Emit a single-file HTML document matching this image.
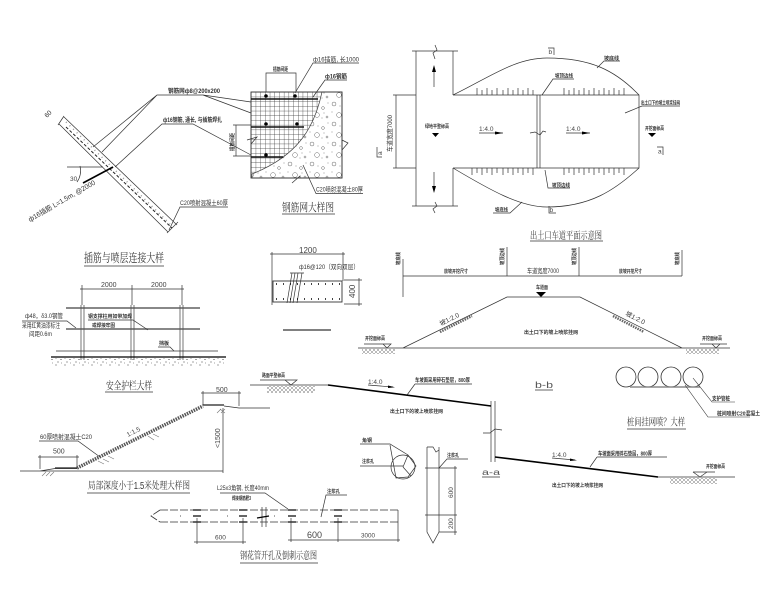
<!DOCTYPE html>
<html><head><meta charset="utf-8"><style>
html,body{margin:0;padding:0;background:#fff;width:760px;height:608px;overflow:hidden}
svg{display:block}
text{font-family:"Liberation Sans","Noto Sans CJK SC",sans-serif;fill:#222}
.s{font-size:6px;font-weight:700;fill:#333}
.r{font-size:6.5px;font-weight:400;fill:#333}
.n{font-size:8px;fill:#444}
.t{font-size:11px;fill:#333;font-family:"Liberation Sans","Noto Serif CJK SC",serif}
.l{fill:none;stroke:#333;stroke-width:.7}
.g{fill:none;stroke:#555;stroke-width:.8}
.h{fill:none;stroke:#777;stroke-width:.6}
</style></head><body>
<svg width="760" height="608" viewBox="0 0 760 608" xmlns="http://www.w3.org/2000/svg">
<defs>
<pattern id="grid" width="4.7" height="4.7" patternUnits="userSpaceOnUse" x="251" y="92"><path d="M0 0H4.7M0 0V4.7" stroke="#333" stroke-width=".7" fill="none"/></pattern>
<pattern id="conc" width="22" height="20" patternUnits="userSpaceOnUse"><g fill="none" stroke="#666" stroke-width=".5"><circle cx="4" cy="4" r="2"/><circle cx="15" cy="8" r="1.4"/><circle cx="9" cy="15" r="2.4"/><circle cx="19" cy="17" r="1"/></g><g fill="#777"><circle cx="10" cy="6" r=".5"/><circle cx="2" cy="12" r=".5"/><circle cx="16" cy="13" r=".5"/><circle cx="20" cy="3" r=".5"/><circle cx="14" cy="18" r=".5"/></g></pattern>
<pattern id="hat" width="4" height="4" patternUnits="userSpaceOnUse"><path d="M0 0L4 4M4 0L0 4" stroke="#777" stroke-width=".5"/></pattern>
<pattern id="spk" width="9" height="7" patternUnits="userSpaceOnUse"><path d="M1 1h2M6 2.500h2M3 5h2M7 6h1" stroke="#888" stroke-width=".7"/></pattern>
</defs>

<!-- slope strip -->
<g>
<path class="l" d="M59 124L168 232M64 117L177 225M58 125L64 116M167 233L178 222"/>
<path d="M66 127L172 228" stroke="#222" stroke-width="1" stroke-dasharray="3 2" fill="none"/>
<path d="M66 122L170 224" stroke="#999" stroke-width="1.5" stroke-dasharray="1 4" fill="none"/>
<path class="l" d="M67 167H103M80 166Q82 175 77 182"/>
<path class="l" d="M93 147L157 95H203L251 102M102 152L157 95M203 95L251 113"/>
<path class="l" d="M115 167L162 124H193L251 155"/>
<path d="M83 183L113 167" stroke="#000" stroke-width="1.6" fill="none"/>
<path class="l" d="M169 230L180 207H228"/>
<text class="s" x="168" y="93" textLength="52" lengthAdjust="spacingAndGlyphs">钢筋网ф8@200x200</text>
<text class="s" x="163" y="122" textLength="59" lengthAdjust="spacingAndGlyphs">ф16钢筋, 通长, 与插筋焊扎</text>
<text class="r" x="180" y="205" textLength="48" lengthAdjust="spacingAndGlyphs">C20喷射混凝土60厚</text>
<text class="n" x="70" y="181" style="font-size:6.500px">30</text>
<text class="r" x="47" y="118" transform="rotate(-45 47 118)">60</text>
<text class="r" x="30" y="222" transform="rotate(-30 30 222)" textLength="76" lengthAdjust="spacingAndGlyphs" style="font-size:7px">ф16插筋 L=1.5m, @2000</text>
<text class="t" x="84" y="262" textLength="80" lengthAdjust="spacingAndGlyphs" style="font-size:12px">插筋与喷层连接大样</text>
<path class="l" d="M84 266H164"/>
</g>

<!-- mesh detail -->
<rect x="251" y="92" width="91" height="86" fill="url(#grid)"/>
<path d="M322 92C315 125 300 155 252 174V178H342V92Z" fill="#fff"/>
<path d="M322 92C315 125 300 155 252 174V178H342V92Z" fill="url(#conc)" stroke="#444" stroke-width=".7"/>
<rect x="251" y="92" width="91" height="86" fill="none" stroke="#333" stroke-width=".9"/>
<path d="M251 99H318M251 127H304M251 157H283" stroke="#111" stroke-width="1.6" fill="none"/>
<g fill="#000"><circle cx="266" cy="96" r="1.8"/><circle cx="295" cy="96" r="1.8"/><circle cx="266" cy="124" r="1.8"/><circle cx="297" cy="124" r="1.8"/><circle cx="266" cy="155" r="1.8"/></g>
<path class="l" d="M266 92V73H296V92M295 93L313 63H359M347 80H325L313 97M236 125V156M233 125H251M233 156H251M247 140L257 137L251 144M342 140L348 143L342 150"/>
<path class="l" d="M303 165L316 193.500H363M292 183L300 176V178"/>
<text class="s" x="273" y="71" textLength="15" lengthAdjust="spacingAndGlyphs" style="font-size:5px">插筋间距</text>
<text class="r" x="313" y="61.500" textLength="46" lengthAdjust="spacingAndGlyphs">ф16插筋, 长1000</text>
<text class="s" x="325" y="78.500" textLength="22" lengthAdjust="spacingAndGlyphs">ф16钢筋</text>
<text class="s" x="234" y="151" transform="rotate(-90 234 151)" textLength="18" lengthAdjust="spacingAndGlyphs" style="font-size:5px">插筋间距</text>
<text class="r" x="316" y="191.500" textLength="47" lengthAdjust="spacingAndGlyphs">C20喷射混凝土80厚</text>
<text class="t" x="282" y="211" textLength="52" lengthAdjust="spacingAndGlyphs">钢筋网大样图</text>
<path class="l" d="M282 214H335"/>

<!-- plan -->
<g>
<path class="l" d="M412 51H458M416 51V206M453 51V95M453 168V206M412 206H458"/>
<path class="l" d="M435 45L437 50L433 53L435 59M435 202L437 206L433 209L435 213"/>
<path class="l" d="M453 95H639V168H453M453 95C490 77 515 58 547 58C590 58 615 70 639 95M453 168C490 190 520 207 547 207C590 207 615 190 639 168"/>
<path class="l" d="M396 95V168M393 95H416M393 168H416"/>
<path class="l" d="M537 95V168M540 95V168M530 133L535 132L540 135L543 131L546 132"/>
<path class="l" d="M477 95v-7M482 95v-5M487 95v-7M492 95v-5M497 95v-7M503 95v-5M508 95v-7M513 95v-5M518 95v-7M523 95v-5M528 95v-7M533 95v-5M564 95v-7M569 95v-5M574 95v-7M579 95v-5M584 95v-7M589 95v-5M594 95v-7M599 95v-5M604 95v-7M609 95v-5M614 95v-7M619 95v-5M624 95v-7"/>
<path class="l" d="M472 168v7M477 168v5M482 168v7M487 168v5M492 168v7M497 168v5M503 168v7M508 168v5M513 168v7M518 168v5M523 168v7M528 168v5M533 168v7M564 168v7M569 168v5M574 168v7M579 168v5M584 168v7M589 168v5M594 168v7M599 168v5M604 168v7M609 168v5M614 168v7M619 168v5M624 168v7"/>
<path class="l" d="M434 70V87M434 172V190M479 133H503M566 133H590M597 68L604 61H620M542 95L553 79H574M545 170L548 188H570M522 202L510 213H493M625 113L642 106H680"/>
<path d="M434 65L436 72H432ZM434 193L432 186H436ZM503 133L495 131.500V134.500ZM590 133L582 131.500V134.500Z" fill="#000"/>
<path d="M432 133H439L435.500 137ZM648 133H656L652 137Z" fill="#000"/>
<text class="s" x="425" y="128" textLength="24" lengthAdjust="spacingAndGlyphs" style="font-size:5px">绿地平整标高</text>
<text class="s" x="645" y="130" textLength="19" lengthAdjust="spacingAndGlyphs" style="font-size:5px">开挖面标高</text>
<text class="r" x="392" y="152" transform="rotate(-90 392 152)" textLength="37" lengthAdjust="spacingAndGlyphs">车道宽度7000</text>
<text class="n" x="479" y="131" style="font-size:6.500px">1:4.0</text><text class="n" x="566" y="131" style="font-size:6.500px">1:4.0</text>
<text class="s" x="604" y="60" textLength="15" lengthAdjust="spacingAndGlyphs" style="font-size:5px">坡底线</text>
<text class="s" x="555" y="77.500" textLength="18" lengthAdjust="spacingAndGlyphs" style="font-size:5px">坡顶边线</text>
<text class="s" x="552" y="187" textLength="18" lengthAdjust="spacingAndGlyphs" style="font-size:5px">坡顶边线</text>
<text class="s" x="495" y="211.500" textLength="13" lengthAdjust="spacingAndGlyphs" style="font-size:5px">坡底线</text>
<text class="s" x="641" y="104.500" textLength="39" lengthAdjust="spacingAndGlyphs" style="font-size:5px">出土口下的坡土喷浆挂网</text>
<path class="l" d="M548 48H554V55M549 206V213H556M657 147H663V155M377 147V157H382"/>
<text class="n" x="548.500" y="54" style="font-size:6.500px">b</text><text class="n" x="549.500" y="212" style="font-size:6.500px">b</text><text class="n" x="658" y="153.500" style="font-size:6.500px">a</text><text class="n" x="382" y="155" transform="rotate(-90 382 155)" style="font-size:6.500px">a</text>
<text class="t" x="530" y="239" textLength="72" lengthAdjust="spacingAndGlyphs" style="font-size:10px">出土口车道平面示意图</text>
<path class="l" d="M530 241H603"/>
</g>

<!-- section detail 1200 -->
<g>
<path class="l" d="M270 254H345M272 252V305M343 252V281"/>
<rect x="273" y="281" width="69" height="21" fill="none" stroke="#333" stroke-width=".9"/>
<path class="l" d="M292 273L287 303M295 273L290 303M298 273L293 303M302 273L297 303M290 273H304M344 280H362M344 304H362M359 278V306"/>
<path d="M276 284h1M283 284h1M290 284h1M297 284h1M304 284h1M311 284h1M318 284h1M325 284h1M332 284h1M339 284h1M276 299h1M283 299h1M290 299h1M297 299h1M304 299h1M311 299h1M318 299h1M325 299h1M332 299h1M339 299h1" stroke="#000" stroke-width="1.500"/>
<text class="n" x="299" y="253">1200</text>
<text class="r" x="299" y="269" textLength="60" lengthAdjust="spacingAndGlyphs">ф16@120（双向双层）</text>
<text class="n" x="355" y="298" transform="rotate(-90 355 298)">400</text>
<path d="M283 330H331" stroke="#000" stroke-width="1" fill="none"/>
</g>

<!-- guardrail -->
<g>
<path d="M66 308H200M66 329H200" stroke="#777" stroke-width="1.800" fill="none"/>
<path class="g" d="M81 305V360M84 305V360M131 305V360M134 305V360M180 305V360M183 305V360"/>
<path class="l" d="M82 285V305M132 285V305M182 285V305M80 289H184M56 351H218"/>
<path d="M51 357H226" stroke="#000" stroke-width="1.300" fill="none"/>
<rect x="51" y="358" width="175" height="8" fill="url(#spk)"/>
<path class="l" d="M22 321H67L76 328M88 320H133L148 330M158 347H170L174 351"/>
<text class="n" x="101" y="287" style="font-size:7px">2000</text><text class="n" x="151" y="287" style="font-size:7px">2000</text>
<text class="r" x="25" y="318" textLength="38" lengthAdjust="spacingAndGlyphs">ф48，δ3.0钢管</text>
<text class="r" x="22" y="327.500" textLength="38" lengthAdjust="spacingAndGlyphs">采用红黄油漆标注</text>
<text class="r" x="29" y="336" textLength="23" lengthAdjust="spacingAndGlyphs">间距0.6m</text>
<text class="s" x="88" y="318" textLength="44" lengthAdjust="spacingAndGlyphs" style="font-size:5px">钢支撑柱用如带加焊</text>
<text class="s" x="92" y="327" textLength="23" lengthAdjust="spacingAndGlyphs" style="font-size:5px">或焊接牢固</text>
<text class="s" x="159" y="345" style="font-size:5px">挡板</text>
<text class="t" x="106" y="389" textLength="46" lengthAdjust="spacingAndGlyphs" style="font-size:10.500px">安全护栏大样</text>
<path class="l" d="M105 392H153"/>
</g>

<!-- shallow slope -->
<g>
<path class="l" d="M20 471H223M40 471L55 468.500H77M224 406L239 408H270M40 469V455M77 468V455M38 457H79M203 405V391M239 406V391M201 393H241M223 408V473"/>
<path d="M77 468L203 406" stroke="#555" stroke-width="3.500" stroke-dasharray="1.500 1" fill="none"/>
<path d="M55 468H77M203 405H224" stroke="#222" stroke-width="1.300" fill="none"/>
<path class="h" d="M42 476L46 472M46 476L50 472M50 476L54 472M217 413L221 409M221 413L225 409M220 409L225 413M98 461L104 464M103 459L109 462M108 456L114 459M148 436L154 440M153 434L159 437"/>
<path class="l" d="M39 441H78L100 457"/>
<text class="n" x="53" y="453.500" style="font-size:7px">500</text>
<text class="n" x="216" y="392" style="font-size:7px">500</text>
<text class="n" x="220" y="448" transform="rotate(-90 220 448)" style="font-size:7px">&lt;1500</text>
<text class="n" x="128" y="437" transform="rotate(-27 128 437)" style="font-size:6.500px">1:1.5</text>
<text class="r" x="40" y="439" textLength="52" lengthAdjust="spacingAndGlyphs">60厚喷射混凝土C20</text>
<text class="t" x="88" y="489" textLength="102" lengthAdjust="spacingAndGlyphs" style="font-size:10px">局部深度小于1.5米处理大样图</text>
<path class="l" d="M87 493H190"/>
</g>

<!-- section ramp -->
<g>
<path class="l" d="M358 348H403L507 297H580L682 348H730M403 348H682M403 259V297M507 247V276M579 247V276M682 250V276M403 276H682"/>
<path class="l" d="M364 344H391L387 348L383 344M700 344H727L720 344L716 348L712 344"/>
<rect x="362" y="349" width="33" height="5" fill="url(#hat)"/><rect x="686" y="349" width="33" height="5" fill="url(#hat)"/>
<path d="M440 332L472 316M613 316L644 332" stroke="#666" stroke-width="2.500" stroke-dasharray="1.500 1" fill="none"/>
<path d="M536 292H546L541 297Z" fill="#000"/>
<text class="s" x="400" y="265" transform="rotate(-90 400 265)" textLength="13" lengthAdjust="spacingAndGlyphs" style="font-size:5px">坡底线</text>
<text class="s" x="504" y="265" transform="rotate(-90 504 265)" textLength="17" lengthAdjust="spacingAndGlyphs" style="font-size:5px">坡顶边线</text>
<text class="s" x="576" y="265" transform="rotate(-90 576 265)" textLength="17" lengthAdjust="spacingAndGlyphs" style="font-size:5px">坡顶边线</text>
<text class="s" x="679" y="265" transform="rotate(-90 679 265)" textLength="13" lengthAdjust="spacingAndGlyphs" style="font-size:5px">坡底线</text>
<text class="s" x="444" y="273" textLength="24" lengthAdjust="spacingAndGlyphs" style="font-size:5px">放坡开挖尺寸</text>
<text class="r" x="527" y="273" textLength="32" lengthAdjust="spacingAndGlyphs">车道宽度7000</text>
<text class="s" x="619" y="273" textLength="23" lengthAdjust="spacingAndGlyphs" style="font-size:5px">放坡开挖尺寸</text>
<text class="s" x="536" y="289" textLength="12" lengthAdjust="spacingAndGlyphs" style="font-size:5px">车道面</text>
<text class="s" x="524" y="334" textLength="54" lengthAdjust="spacingAndGlyphs" style="font-size:5px">出土口下的坡上喷浆挂网</text>
<text class="r" x="441" y="326" transform="rotate(-27 441 326)">坡1:2.0</text>
<text class="r" x="625" y="315" transform="rotate(27 625 315)">坡1:2.0</text>
<text class="s" x="365" y="340" textLength="20" lengthAdjust="spacingAndGlyphs" style="font-size:5px">开挖面标高</text>
<text class="s" x="702" y="340" textLength="20" lengthAdjust="spacingAndGlyphs" style="font-size:5px">开挖面标高</text>
</g>

<!-- b-b longitudinal -->
<g>
<path class="l" d="M250 385H328M491 401V462M495 401V462M483 433L490 433L495 429L502 430M658 477H735M260 380H297L291 385L285 380"/>
<rect x="267" y="386" width="48" height="7" fill="url(#hat)"/><rect x="670" y="478" width="47" height="6" fill="url(#hat)"/>
<path d="M328 385L491 406M495 457L658 477" stroke="#000" stroke-width="1.600" fill="none"/>
<path class="l" d="M368 385L393 387M415 384H472M415 384L407 395M552 458L575 460M597 457H667M597 457L590 467M693 472H715M693 472L700 477L707 472"/>
<path d="M395 387.300L388 385.500V388ZM577 460.300L570 458.500V461Z" fill="#000"/>
<text class="n" x="368" y="384" style="font-size:6.500px">1:4.0</text>
<text class="n" x="552" y="457" style="font-size:6.500px">1:4.0</text>
<text class="s" x="415" y="382" textLength="55" lengthAdjust="spacingAndGlyphs" style="font-size:5.500px">车坡面采用碎石垫层，800厚</text>
<text class="s" x="598" y="455.500" textLength="54" lengthAdjust="spacingAndGlyphs" style="font-size:5.500px">车坡面采用碎石垫层，800厚</text>
<text class="s" x="262" y="377" textLength="23" lengthAdjust="spacingAndGlyphs" style="font-size:5px">路面平整标高</text>
<text class="s" x="390" y="413" textLength="53" lengthAdjust="spacingAndGlyphs" style="font-size:5px">出土口下的坡上喷浆挂网</text>
<text class="s" x="552" y="487" textLength="51" lengthAdjust="spacingAndGlyphs" style="font-size:5px">出土口下的坡上喷浆挂网</text>
<text class="s" x="706" y="468" textLength="19" lengthAdjust="spacingAndGlyphs" style="font-size:5px">开挖面标高</text>
<text class="n" x="535" y="388" textLength="18" lengthAdjust="spacingAndGlyphs" style="font-size:9px;fill:#555">b-b</text><path class="l" d="M535 390H553"/>
<text class="n" x="482" y="475" textLength="18" lengthAdjust="spacingAndGlyphs" style="font-size:8px;fill:#555">a-a</text><path class="l" d="M482 477H500"/>
</g>

<!-- piles -->
<g fill="none" stroke="#333" stroke-width=".8">
<circle cx="626" cy="377" r="10"/><circle cx="648" cy="377" r="10"/><circle cx="671" cy="377" r="10"/><circle cx="693" cy="377" r="10"/>
<path d="M630 387H700" stroke="#888" stroke-width="1.500"/>
<path stroke-width=".6" d="M685 385L708 417H750M693 378L712 402H735"/>
</g>
<text class="s" x="712" y="400.500" textLength="18" lengthAdjust="spacingAndGlyphs" style="font-size:5.500px">支护管桩</text>
<text class="s" x="717" y="415.500" textLength="43" lengthAdjust="spacingAndGlyphs" style="font-size:5.500px">桩间喷射C20混凝土</text>
<text class="t" x="627" y="425.500" textLength="58" lengthAdjust="spacingAndGlyphs" style="font-size:10px">桩间挂网喷？大样</text>
<path class="l" d="M627 429H686"/>

<!-- pipe details -->
<g>
<path d="M160 510H398M160 522H398M160 510L151 516L160 522" stroke="#333" stroke-width=".8" stroke-dasharray="8 2" fill="none"/>
<path class="l" d="M398 510V522M197 518V544M243 518V544M291 518V542M338 518V542M398 522V542M194 542H246M288 540H400M262 507V527M266 507V527"/>
<path d="M257 518L269 516" stroke="#000" stroke-width="1.200" fill="none"/>
<path d="M193 510H201M239 510H247M288 510H296M334 510H342M193 516H201M239 516H247M288 516H296M334 516H342M193 522H201M239 522H247M288 522H296M334 522H342" stroke="#333" stroke-width="1.600" fill="none"/>
<path d="M180 516h1M227 516h1M274 516h1" stroke="#555" stroke-width="1" fill="none"/>
<path class="l" d="M220 493H265L288 509M321 517L326 495H347"/>
<text class="r" x="217" y="490" textLength="52" lengthAdjust="spacingAndGlyphs">L25x3角钢, 长度40mm</text>
<text class="s" x="232" y="500" textLength="19" lengthAdjust="spacingAndGlyphs" style="font-size:5px">焊接钢筋肥3</text>
<text class="s" x="327" y="493" textLength="13" lengthAdjust="spacingAndGlyphs" style="font-size:5px">注浆孔</text>
<text class="n" x="215" y="539.500" style="font-size:6.500px">600</text>
<text class="n" x="307" y="538" style="font-size:9px">600</text>
<text class="n" x="361" y="537.500" textLength="14" lengthAdjust="spacingAndGlyphs" style="font-size:6.500px">3000</text>
<text class="t" x="240" y="559" textLength="77" lengthAdjust="spacingAndGlyphs" style="font-size:10px">钢花管开孔及倒刺示意图</text>
<path class="l" d="M240 563H318"/>
<circle cx="403" cy="467" r="12" class="l"/>
<path class="l" d="M360 444H390L408 455L416 466L408 477L396 478L390 445M360 466H403M403 467L408 455M403 467L411 476"/>
<text class="s" x="362" y="442" style="font-size:5px">角钢</text>
<text class="s" x="362" y="463" textLength="12" lengthAdjust="spacingAndGlyphs" style="font-size:5px">注浆孔</text>
<path class="l" d="M427 447V532L433 543L439 532V447M427 447H433L436 452L439 450M439 468L447 459H468M425 468H457M425 515H457M455 466V535M439 532H457"/>
<text class="s" x="447" y="457" textLength="12" lengthAdjust="spacingAndGlyphs" style="font-size:5px">注浆孔</text>
<text class="n" x="453" y="498" transform="rotate(-90 453 498)" style="font-size:6.500px">600</text>
<text class="n" x="453" y="529" transform="rotate(-90 453 529)" style="font-size:6.500px">200</text>
</g>
</svg>
</body></html>
